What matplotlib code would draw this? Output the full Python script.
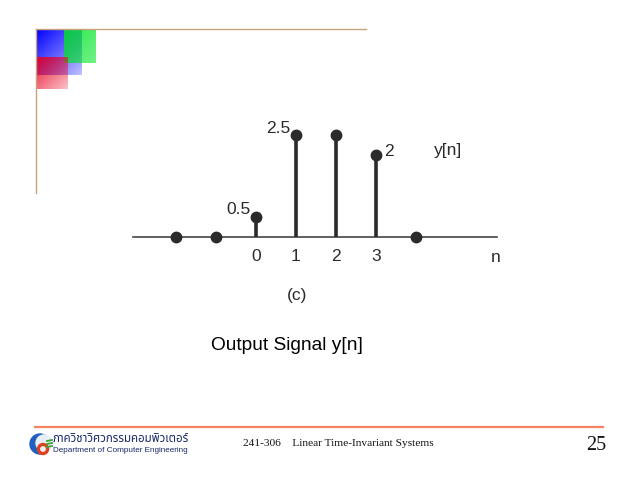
import numpy as np
import matplotlib
matplotlib.use('Agg')
import matplotlib.pyplot as plt
from matplotlib.patches import Circle

# Signal data
n_vals = [-2, -1, 0, 1, 2, 3, 4]
y_vals = [0, 0, 0.5, 2.5, 2.5, 2, 0]
tick_pos = [0, 1, 2, 3]
tick_labels = ['0', '1', '2', '3']
value_labels = {0: '0.5', 1: '2.5', 3: '2'}

W, H = 638, 478
plt.rcParams['font.family'] = ['Liberation Sans', 'DejaVu Sans']

fig = plt.figure(figsize=(W / 100, H / 100), dpi=100)
fig.patch.set_facecolor('white')

# Background / decoration axes in pixel coordinates
bg = fig.add_axes([0, 0, 1, 1])
bg.set_xlim(0, W)
bg.set_ylim(H, 0)
bg.axis('off')


def grad_rect(ax, x0, y0, x1, y1, rgb, a0, a1, z):
    # alpha fades from top-left (a0) to bottom-right (a1)
    gx, gy = np.meshgrid(np.linspace(0, 1, 40), np.linspace(0, 1, 40))
    t = (gx + gy) / 2
    img = np.zeros((40, 40, 4))
    img[..., 0], img[..., 1], img[..., 2] = rgb
    img[..., 3] = a0 + (a1 - a0) * t
    ax.imshow(img, extent=(x0, x1, y1, y0), zorder=z, interpolation='bilinear')


grad_rect(bg, 36, 29, 82, 75, (0.0, 0.0, 1.0), 1.0, 0.25, 1)
grad_rect(bg, 64, 29, 96, 63, (0.0, 0.9, 0.15), 0.85, 0.55, 2)
grad_rect(bg, 36, 57, 68, 89, (0.92, 0.0, 0.12), 0.9, 0.25, 3)

bg.plot([36, 366], [29, 29], color='#c9a27c', lw=1.0, zorder=4)
bg.plot([36, 36], [29, 193], color='#c9a27c', lw=1.0, zorder=4)

# Footer
bg.plot([35, 603], [427, 427], color='#f4845f', lw=1.6)
bg.text(243, 444, '241-306    Linear Time-Invariant Systems', family='Liberation Serif',
        fontsize=8.2, ha='left', va='center', color='#111111')
bg.text(606, 445, '25', family='Liberation Serif', fontsize=14.5, ha='right', va='center',
        color='#111111')

# Logo
bg.add_patch(Circle((40, 444), 10, color='#1f5fbf', zorder=5))
bg.add_patch(Circle((44, 443), 8, color='#e8eef8', zorder=6))
bg.add_patch(Circle((43, 449), 5.5, color='#e04020', zorder=7))
bg.add_patch(Circle((43, 449), 2.2, color='#f0f0f0', zorder=8))
for dy in (-3, 0, 3):
    bg.plot([47, 52], [444 + dy, 443 + dy], color='#3aa63a', lw=1.3, zorder=9)
bg.text(53, 439, 'ภาควิชาวิศวกรรมคอมพิวเตอร์', family=['Noto Sans Thai', 'Loma', 'Garuda', 'DejaVu Sans'],
        fontsize=8.3, fontweight='bold', ha='left', va='center', color='#1a2a6a')
bg.text(53, 450, 'Department of Computer Engineering', fontsize=5.9, ha='left', va='center',
        color='#1a2a6a')

# Caption
bg.text(287, 345, 'Output Signal y[n]', fontsize=13.8, ha='center', va='center', color='black')

# Stem plot axes: n=0 at x=256px, 40px per unit; y=0 at 237px, 40.8px per unit
px_left, px_right, px_top, px_bot = 120, 520, 100, 300
ax = fig.add_axes([px_left / W, 1 - px_bot / H, (px_right - px_left) / W, (px_bot - px_top) / H])
ax.set_xlim((px_left - 256) / 40, (px_right - 256) / 40)
ax.set_ylim((237 - px_bot) / 40.8, (237 - px_top) / 40.8)
ax.axis('off')
ax.patch.set_alpha(0)

ink = '#2b2b2b'
ax.plot([(133 - 256) / 40, (497 - 256) / 40], [0, 0.0], color='#444444', lw=1.2, zorder=1)
ax.vlines(n_vals, 0, y_vals, color=ink, lw=2.6, zorder=2)
ax.plot(n_vals, y_vals, 'o', color=ink, ms=7.5, zorder=3)

for k, lab in value_labels.items():
    if k == 3:
        ax.annotate(lab, (k, y_vals[n_vals.index(k)]), xytext=(6, 3), textcoords='offset points',
                    ha='left', va='center', fontsize=12.5, color=ink)
    else:
        ax.annotate(lab, (k, y_vals[n_vals.index(k)]), xytext=(-4, 5), textcoords='offset points',
                    ha='right', va='center', fontsize=12.5, color=ink)

for p, lab in zip(tick_pos, tick_labels):
    ax.text(p, -0.49, lab, ha='center', va='center', fontsize=12.5, color=ink)
ax.text(5.98, -0.51, 'n', ha='center', va='center', fontsize=12.5, color=ink)
ax.text(4.8, 2.12, 'y[n]', ha='center', va='center', fontsize=12.5, color=ink)
ax.text(1.03, -1.44, '(c)', ha='center', va='center', fontsize=12.5, color=ink)

fig.savefig('out.png', dpi=100, facecolor='white')
